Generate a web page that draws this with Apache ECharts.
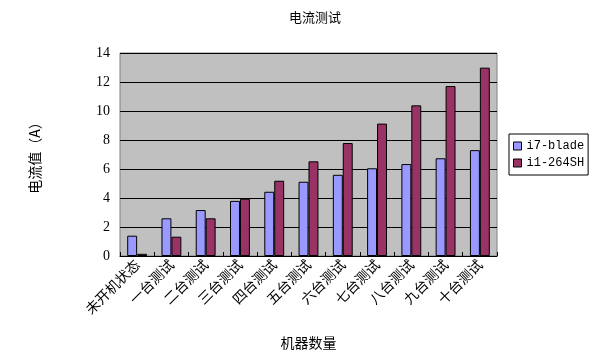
<!DOCTYPE html>
<html><head><meta charset="utf-8">
<script src="https://cdn.jsdelivr.net/npm/echarts@6/dist/echarts.min.js"></script>
<style>html,body{margin:0;padding:0;background:#fff}#c{width:600px;height:358px}</style>
</head><body><div id="c"></div>
<script>
const categories = ['未开机状态','一台测试','二台测试','三台测试','四台测试','五台测试','六台测试','七台测试','八台测试','九台测试','十台测试'];
const seriesNames = ['i7-blade','i1-264SH'];
const i7blade = [1.4, 2.6, 3.17, 3.8, 4.43, 5.12, 5.6, 6.05, 6.34, 6.74, 7.3];
const i1264SH = [0.15, 1.33, 2.6, 3.95, 5.19, 6.53, 7.79, 9.13, 10.39, 11.72, 12.99];
const yTicks = {min: 0, max: 14, interval: 2};

const chart = echarts.init(document.getElementById('c'));
chart.setOption({
  animation: false,
  backgroundColor: '#ffffff',
  title: {text: '电流测试', left: 310, top: 6, textAlign: 'center',
    textStyle: {fontFamily: 'Noto Sans CJK SC', fontSize: 13, fontWeight: 'normal', color: '#000'}},
  legend: {
    orient: 'vertical', left: 509, top: 134, width: 80,
    padding: [6, 4, 6, 4], itemGap: 5,
    itemWidth: 8, itemHeight: 8, icon: 'rect',
    borderColor: '#000', borderWidth: 1,
    textStyle: {fontFamily: 'Liberation Mono', fontSize: 12, color: '#000'},
    itemStyle: {borderColor: '#000', borderWidth: 1},
    data: seriesNames
  },
  grid: {left: 120, right: 103, top: 53, bottom: 102, show: true, backgroundColor: '#c0c0c0', borderColor: '#808080', borderWidth: 1},
  xAxis: {
    type: 'category', data: categories,
    name: '机器数量', nameLocation: 'middle', nameGap: 80,
    nameTextStyle: {fontFamily: 'Noto Sans CJK SC', fontSize: 14, color: '#000'},
    axisLine: {lineStyle: {color: '#000'}},
    axisTick: {show: true, inside: true, length: 4, lineStyle: {color: '#000'}},
    axisLabel: {rotate: 45, fontFamily: 'Noto Sans CJK SC', fontSize: 14, color: '#000', margin: 6, interval: 0}
  },
  yAxis: {
    type: 'value', min: yTicks.min, max: yTicks.max, interval: yTicks.interval,
    name: '电流值（A）', nameLocation: 'middle', nameGap: 78, nameRotate: 90,
    nameTextStyle: {fontFamily: 'Noto Sans CJK SC', fontSize: 14, color: '#000'},
    axisLine: {show: false},
    axisTick: {show: false},
    axisLabel: {fontFamily: 'Liberation Serif', fontSize: 14, color: '#000', margin: 10},
    splitLine: {lineStyle: {color: '#000', width: 1}}
  },
  series: [
    {name: seriesNames[0], type: 'bar', data: i7blade, barGap: '0%', barCategoryGap: '42%',
      itemStyle: {color: '#9999ff', borderColor: '#000', borderWidth: 1}},
    {name: seriesNames[1], type: 'bar', data: i1264SH, barGap: '0%', barCategoryGap: '42%',
      itemStyle: {color: '#993366', borderColor: '#000', borderWidth: 1}}
  ]
});
</script></body></html>
